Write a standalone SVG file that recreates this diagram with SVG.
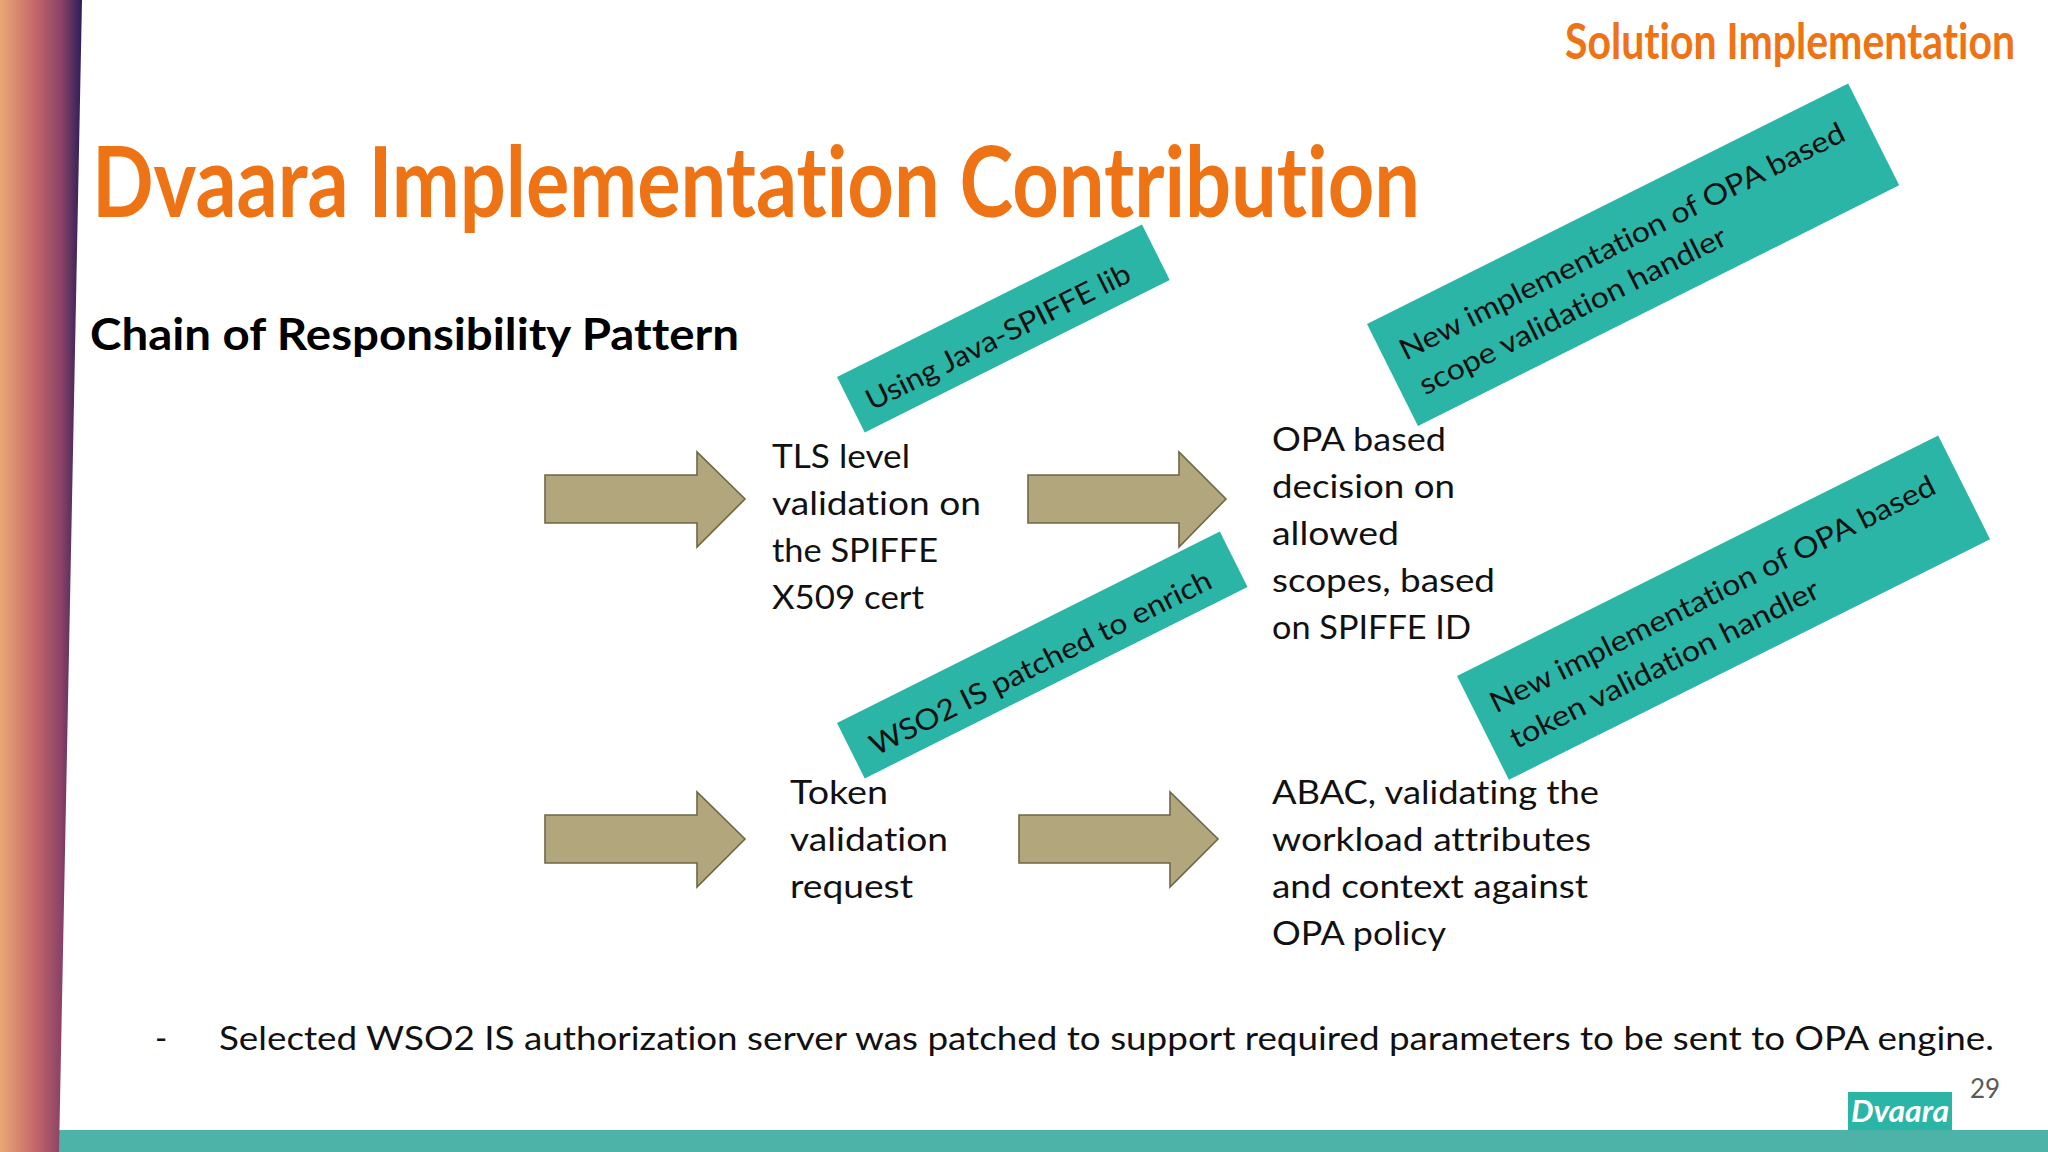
<svg xmlns="http://www.w3.org/2000/svg" width="2048" height="1152" viewBox="0 0 2048 1152">
<defs>
<linearGradient id="sidebar" x1="0" y1="0" x2="1" y2="0">
<stop offset="0" stop-color="#EBA874"/>
<stop offset="0.45" stop-color="#C0646A"/>
<stop offset="0.75" stop-color="#8A4266"/>
<stop offset="1" stop-color="#2A1E58"/>
</linearGradient>
<style>
text{font-variant-ligatures:none;font-feature-settings:"liga" 0,"clig" 0,"dlig" 0}
.body{font-family:Lato,"Open Sans","Noto Sans",sans-serif;font-size:33px;fill:#111111}
.tag{font-family:Lato,"Open Sans","Noto Sans",sans-serif;font-size:29px;fill:#111111}
.tagbox{fill:#2AB5A6}
.arrow{fill:#B2A77C;stroke:#6E6746;stroke-width:1.6}
.orange{font-family:Lato,"Open Sans",sans-serif;font-weight:bold;fill:#EE7314}
</style>
</defs>
<rect x="0" y="0" width="2048" height="1152" fill="#FFFFFF"/>
<rect x="0" y="1130" width="2048" height="22" fill="#4DB3A8"/>
<polygon points="0,0 82,0 59,1152 0,1152" fill="url(#sidebar)"/>

<g id="header">
<g transform="translate(1565,59) scale(0.82,1)">
<text class="orange" x="0" y="0" font-size="50" textLength="549" lengthAdjust="spacingAndGlyphs">Solution Implementation</text>
</g>
<text class="orange" x="92" y="217" font-size="98" textLength="1328" lengthAdjust="spacingAndGlyphs">Dvaara Implementation Contribution</text>
<text x="90" y="350" font-family="Lato,'Open Sans',sans-serif" font-weight="bold" font-size="44" fill="#000000" textLength="649" lengthAdjust="spacingAndGlyphs">Chain of Responsibility Pattern</text>
</g>

<g id="connectors">
<path class="arrow" d="M545,475 H697 V452 L745,499 L697,547 V523 H545 Z"/>
<path class="arrow" d="M1028,475 H1179 V452 L1226,499 L1179,547 V523 H1028 Z"/>
<path class="arrow" d="M545,815 H697 V792 L745,839 L697,887 V863 H545 Z"/>
<path class="arrow" d="M1019,815 H1170 V792 L1218,839 L1170,887 V863 H1019 Z"/>
</g>

<g id="node-tls">
<text class="body" x="772" y="468" textLength="138" lengthAdjust="spacingAndGlyphs">TLS level</text>
<text class="body" x="772" y="515" textLength="209" lengthAdjust="spacingAndGlyphs">validation on</text>
<text class="body" x="772" y="562" textLength="166" lengthAdjust="spacingAndGlyphs">the SPIFFE</text>
<text class="body" x="772" y="609" textLength="152" lengthAdjust="spacingAndGlyphs">X509 cert</text>
</g>

<g id="node-opa-scope">
<text class="body" x="1272" y="451" textLength="174" lengthAdjust="spacingAndGlyphs">OPA based</text>
<text class="body" x="1272" y="498" textLength="183" lengthAdjust="spacingAndGlyphs">decision on</text>
<text class="body" x="1272" y="545" textLength="127" lengthAdjust="spacingAndGlyphs">allowed</text>
<text class="body" x="1272" y="592" textLength="223" lengthAdjust="spacingAndGlyphs">scopes, based</text>
<text class="body" x="1272" y="639" textLength="199" lengthAdjust="spacingAndGlyphs">on SPIFFE ID</text>
</g>

<g id="node-token">
<text class="body" x="790" y="804" textLength="98" lengthAdjust="spacingAndGlyphs">Token</text>
<text class="body" x="790" y="851" textLength="158" lengthAdjust="spacingAndGlyphs">validation</text>
<text class="body" x="790" y="898" textLength="123" lengthAdjust="spacingAndGlyphs">request</text>
</g>

<g id="node-abac">
<text class="body" x="1272" y="804" textLength="327" lengthAdjust="spacingAndGlyphs">ABAC, validating the</text>
<text class="body" x="1272" y="851" textLength="319" lengthAdjust="spacingAndGlyphs">workload attributes</text>
<text class="body" x="1272" y="898" textLength="316" lengthAdjust="spacingAndGlyphs">and context against</text>
<text class="body" x="1272" y="945" textLength="174" lengthAdjust="spacingAndGlyphs">OPA policy</text>
</g>

<g id="tag-java-spiffe" transform="translate(837,377) rotate(-26.565)">
<rect class="tagbox" x="0" y="0" width="341" height="62"/>
<text class="tag" x="16" y="46" font-size="28" textLength="292" lengthAdjust="spacingAndGlyphs">Using Java-SPIFFE lib</text>
</g>

<g id="tag-scope-handler" transform="translate(1367,324) rotate(-26.565)">
<rect class="tagbox" x="0" y="0" width="538" height="114"/>
<text class="tag" x="18" y="50" textLength="494" lengthAdjust="spacingAndGlyphs">New implementation of OPA based</text>
<text class="tag" x="20" y="90" textLength="340" lengthAdjust="spacingAndGlyphs">scope validation handler</text>
</g>

<g id="tag-wso2-patched" transform="translate(837,723) rotate(-26.565)">
<rect class="tagbox" x="0" y="0" width="428" height="62"/>
<text class="tag" x="20" y="47" font-size="28" textLength="378" lengthAdjust="spacingAndGlyphs">WSO2 IS patched to enrich</text>
</g>

<g id="tag-token-handler" transform="translate(1457,676) rotate(-26.565)">
<rect class="tagbox" x="0" y="0" width="538" height="116"/>
<text class="tag" x="18" y="51" textLength="494" lengthAdjust="spacingAndGlyphs">New implementation of OPA based</text>
<text class="tag" x="20" y="92" textLength="342" lengthAdjust="spacingAndGlyphs">token validation handler</text>
</g>

<g id="footnote">
<text class="body" x="155" y="1050" font-size="34">-</text>
<text class="body" x="219" y="1050" font-size="34" textLength="1775" lengthAdjust="spacingAndGlyphs">Selected WSO2 IS authorization server was patched to support required parameters to be sent to OPA engine.</text>
</g>

<g id="footer">
<rect x="1848" y="1092" width="104" height="38" fill="#2AB5A6"/>
<text x="1851" y="1122" font-family="Lato,'Open Sans',sans-serif" font-weight="bold" font-style="italic" font-size="31" fill="#FFFFFF" textLength="98" lengthAdjust="spacingAndGlyphs">Dvaara</text>
<text x="1970" y="1098" font-family="Lato,'Open Sans',sans-serif" font-size="26" fill="#595959">29</text>
</g>
</svg>
